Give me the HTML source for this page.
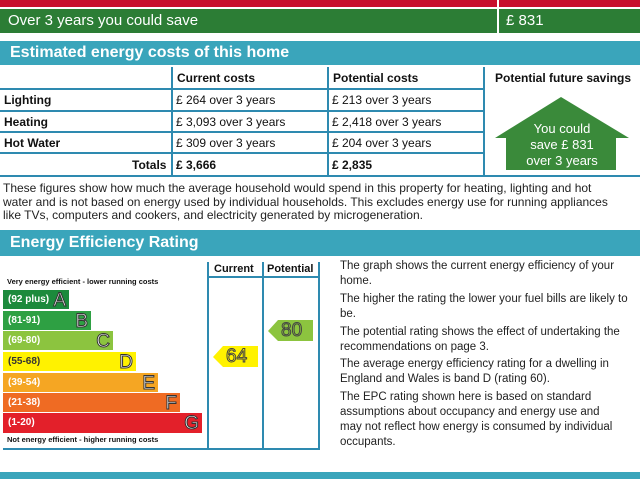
<!DOCTYPE html>
<html><head><meta charset="utf-8"><style>
body{margin:0;width:640px;height:479px;overflow:hidden;background:#fff;font-family:"Liberation Sans",Arial,sans-serif;position:relative}
div{position:absolute;box-sizing:border-box}
.t{white-space:nowrap;color:#111}
.hl{background:#2e8ab0;height:2px}
.vl{background:#2e8ab0;width:2px}
.bar{height:19px;color:#fff;font-weight:bold;font-size:10px;line-height:19px;padding-left:5px}
.bar span{position:absolute;right:3px;top:1px;line-height:19px;font-size:19px;font-weight:normal;color:#fff;-webkit-text-stroke:1px #333}
.p{font-size:11.5px;color:#222;white-space:nowrap}
</style></head><body>
<div style="left:0;top:0;width:640px;height:7px;background:#c8102e"></div>
<div style="left:0;top:9px;width:640px;height:24px;background:#2c7d35"></div>
<div style="left:497px;top:0;width:2px;height:33px;background:#fff"></div>
<div class="t" style="left:8px;top:12px;font-size:15px;color:#fff">Over 3 years you could save</div>
<div class="t" style="left:506px;top:12px;font-size:15px;color:#fff">£ 831</div>

<div style="left:0;top:41px;width:640px;height:24px;background:#3aa5bb"></div>
<div class="t" style="left:10px;top:44px;font-size:16px;font-weight:bold;color:#fff">Estimated energy costs of this home</div>

<div class="vl" style="left:171px;top:67px;height:109px"></div>
<div class="vl" style="left:327px;top:67px;height:109px"></div>
<div class="vl" style="left:483px;top:67px;height:109px"></div>
<div class="hl" style="left:0;top:88px;width:484px"></div>
<div class="hl" style="left:0;top:110px;width:484px"></div>
<div class="hl" style="left:0;top:131px;width:484px"></div>
<div class="hl" style="left:0;top:152px;width:484px"></div>
<div class="hl" style="left:0;top:175px;width:640px"></div>
<div class="t" style="left:177px;top:71px;font-size:12px;font-weight:bold">Current costs</div>
<div class="t" style="left:333px;top:71px;font-size:12px;font-weight:bold">Potential costs</div>
<div class="t" style="left:495px;top:71px;font-size:12px;font-weight:bold">Potential future savings</div>
<div class="t" style="left:4px;top:93px;font-size:12px;font-weight:bold">Lighting</div>
<div class="t" style="left:4px;top:115px;font-size:12px;font-weight:bold">Heating</div>
<div class="t" style="left:4px;top:136px;font-size:12px;font-weight:bold">Hot Water</div>
<div class="t" style="left:132px;top:158px;font-size:12px;font-weight:bold">Totals</div>
<div class="t" style="left:176px;top:93px;font-size:12px">£ 264 over 3 years</div>
<div class="t" style="left:176px;top:115px;font-size:12px">£ 3,093 over 3 years</div>
<div class="t" style="left:176px;top:136px;font-size:12px">£ 309 over 3 years</div>
<div class="t" style="left:176px;top:158px;font-size:12px;font-weight:bold">£ 3,666</div>
<div class="t" style="left:332px;top:93px;font-size:12px">£ 213 over 3 years</div>
<div class="t" style="left:332px;top:115px;font-size:12px">£ 2,418 over 3 years</div>
<div class="t" style="left:332px;top:136px;font-size:12px">£ 204 over 3 years</div>
<div class="t" style="left:332px;top:158px;font-size:12px;font-weight:bold">£ 2,835</div>
<svg style="position:absolute;left:494px;top:96px" width="136" height="76"><polygon points="1,42 67,1 135,42 122,42 122,74 12,74 12,42" fill="#3a8a3a"/></svg>
<div style="left:500px;top:121px;width:124px;text-align:center;color:#fff;font-size:13px;line-height:16px">You could<br>save £ 831<br>over 3 years</div>
<div class="p" style="left:3px;top:182px;font-size:12px;line-height:13.5px">These figures show how much the average household would spend in this property for heating, lighting and hot<br>water and is not based on energy used by individual households. This excludes energy use for running appliances<br>like TVs, computers and cookers, and electricity generated by microgeneration.</div>

<div style="left:0;top:230px;width:640px;height:26px;background:#3aa5bb"></div>
<div class="t" style="left:10px;top:234px;font-size:16px;font-weight:bold;color:#fff">Energy Efficiency Rating</div>

<div class="vl" style="left:207px;top:262px;height:187px"></div>
<div class="vl" style="left:262px;top:262px;height:187px"></div>
<div class="vl" style="left:318px;top:262px;height:187px"></div>
<div class="hl" style="left:207px;top:276px;width:113px"></div>
<div class="hl" style="left:3px;top:448px;width:317px"></div>
<div class="t" style="left:214px;top:263px;font-size:11px;font-weight:bold">Current</div>
<div class="t" style="left:267px;top:263px;font-size:11px;font-weight:bold">Potential</div>
<div class="t" style="left:7px;top:277px;font-size:7.5px;font-weight:bold">Very energy efficient - lower running costs</div>
<div class="t" style="left:7px;top:435px;font-size:7.5px;font-weight:bold">Not energy efficient - higher running costs</div>
<div class="bar" style="left:3px;top:290px;width:66px;background:#1c8a3c">(92 plus)<span>A</span></div>
<div class="bar" style="left:3px;top:311px;width:88px;background:#2ea043">(81-91)<span>B</span></div>
<div class="bar" style="left:3px;top:331px;width:110px;background:#8cc43f">(69-80)<span>C</span></div>
<div class="bar" style="left:3px;top:352px;width:133px;background:#fff200;color:#333">(55-68)<span>D</span></div>
<div class="bar" style="left:3px;top:373px;width:155px;background:#f5a623">(39-54)<span>E</span></div>
<div class="bar" style="left:3px;top:393px;width:177px;background:#ef6b23">(21-38)<span>F</span></div>
<div class="bar" style="left:3px;top:413px;width:199px;height:20px;background:#e3202a">(1-20)<span>G</span></div>
<svg style="position:absolute;left:213px;top:346px" width="46" height="22"><polygon points="0,11 10,0 45,0 45,21 10,21" fill="#fff200"/></svg>
<div class="t" style="left:226px;top:346px;font-size:19px;color:#fff200;-webkit-text-stroke:1px #444">64</div>
<svg style="position:absolute;left:268px;top:320px" width="46" height="22"><polygon points="0,11 10,0 45,0 45,21 10,21" fill="#8cc43f"/></svg>
<div class="t" style="left:281px;top:320px;font-size:19px;color:#8cc43f;-webkit-text-stroke:1px #444">80</div>

<div class="p" style="left:340px;top:259px;line-height:15px">The graph shows the current energy efficiency of your<br>home.</div>
<div class="p" style="left:340px;top:292px;line-height:15px">The higher the rating the lower your fuel bills are likely to<br>be.</div>
<div class="p" style="left:340px;top:325px;line-height:15px">The potential rating shows the effect of undertaking the<br>recommendations on page 3.</div>
<div class="p" style="left:340px;top:357px;line-height:15px">The average energy efficiency rating for a dwelling in<br>England and Wales is band D (rating 60).</div>
<div class="p" style="left:340px;top:390px;line-height:15px">The EPC rating shown here is based on standard<br>assumptions about occupancy and energy use and<br>may not reflect how energy is consumed by individual<br>occupants.</div>

<div style="left:0;top:472px;width:640px;height:7px;background:#3aa5bb"></div>
</body></html>
